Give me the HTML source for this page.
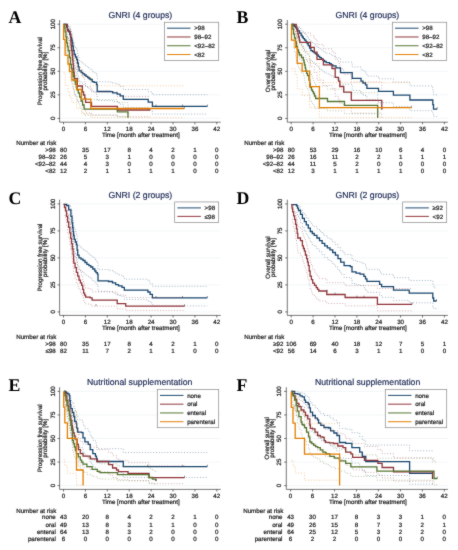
<!DOCTYPE html>
<html><head><meta charset="utf-8"><style>
html,body{margin:0;padding:0;background:#fff;width:458px;height:550px;overflow:hidden}
svg{display:block}
#w{will-change:transform;width:458px;height:550px}
text{font-family:"Liberation Sans",sans-serif;text-rendering:geometricPrecision}
text.s{stroke:#2a2a2a;stroke-width:0.22px;paint-order:stroke}
</style></head><body>
<div id="w"><svg width="458" height="550" viewBox="0 0 458 550">
<defs><filter id="bl" x="0" y="0" width="100%" height="100%" color-interpolation-filters="sRGB"><feConvolveMatrix order="3" kernelMatrix="1 3 1 3 30 3 1 3 1" edgeMode="duplicate"/></filter></defs>
<g filter="url(#bl)">
<rect width="458" height="550" fill="#fff"/>
<text x="8.4" y="22.8" style="font-family:'Liberation Serif',serif;font-weight:bold" font-size="17.8" fill="#000">A</text>
<text x="140.4" y="18.1" text-anchor="middle" font-size="8.7" fill="#1d2a55" stroke="#1d2a55" stroke-width="0.18">GNRI (4 groups)</text>
<line x1="59.6" x2="220.7" y1="118.4" y2="118.4" stroke="#eaf0f2" stroke-width="0.6"/>
<line x1="59.6" x2="220.7" y1="94.85" y2="94.85" stroke="#eaf0f2" stroke-width="0.6"/>
<line x1="59.6" x2="220.7" y1="71.3" y2="71.3" stroke="#eaf0f2" stroke-width="0.6"/>
<line x1="59.6" x2="220.7" y1="47.75" y2="47.75" stroke="#eaf0f2" stroke-width="0.6"/>
<line x1="59.6" x2="220.7" y1="24.2" y2="24.2" stroke="#eaf0f2" stroke-width="0.6"/>
<path d="M66.5 34.29H67.5V37.44H68.6V40.46H69.8V43.64H70.8V47.08H71.5V50.07H72.2V53.2H72.8V57.24H73.3V61.46H74.2V65.58H75.4V68.1H76.7V70.61H77.5V74.07H78.3V77.74H79.1V81.62H81.2V83.12H82.8V84.35H84.5V85.49H86V86.73H87.7V87.85H89V88.74H90.2V89.63H92.2V91.61H94V92.29H96.5V94.26H97.2V100.54H110.3V100.67H112.6V101.58H117.2V102.8H120.2V104.22H123.3V107.49H148.2V110.23H152.4V114.05H207.4V114.05" fill="none" stroke="#1a476f" stroke-width="0.8" stroke-dasharray="1,1.8" opacity="0.5"/>
<path d="M66.5 24.95H67.5V26.26H68.6V27.75H69.8V29.51H70.8V31.61H71.5V33.59H72.2V35.8H72.8V38.85H73.3V42.26H74.2V45.8H75.4V48.05H76.7V50.33H77.5V53.58H78.3V57.19H79.1V61.18H81.2V62.75H82.8V64.02H84.5V65.19H86V66.45H87.7V67.63H89V68.65H90.2V69.68H92.2V71.74H94V72.6H96.5V74.66H97.2V81.78H110.3V82.03H112.6V83.23H117.2V84.68H120.2V86.29H123.3V89.5H148.2V91.88H152.4V94.71H207.4V94.71" fill="none" stroke="#1a476f" stroke-width="0.8" stroke-dasharray="1,1.8" opacity="0.5"/>
<path d="M63.5 24.4H65.4V24.4H66.5V27H67.5V29.5H68.6V31.9H69.8V34.5H70.8V37.4H71.5V40H72.2V42.8H72.8V46.5H73.3V50.5H74.2V54.5H75.4V57H76.7V59.5H77.5V63H78.3V66.8H79.1V70.9H81.2V72.5H82.8V73.8H84.5V75H86V76.3H87.7V77.5H89V78.5H90.2V79.5H92.2V81.6H94V82.4H96.5V84.5H97.2V91.5H110.3V91.7H112.6V92.8H117.2V94.2H120.2V95.8H123.3V99.3H148.2V102.2H152.4V106.4H207.4V106.4" fill="none" stroke="#1a476f" stroke-width="1.3"/>
<line x1="156" x2="156" y1="104.5" y2="106.4" stroke="#333" stroke-width="0.7" opacity="0.8"/>
<line x1="182.5" x2="182.5" y1="104.5" y2="106.4" stroke="#333" stroke-width="0.7" opacity="0.8"/>
<line x1="207.4" x2="207.4" y1="104.5" y2="106.4" stroke="#333" stroke-width="0.7" opacity="0.8"/>
<path d="M67.4 51.96H69.5V51.15H70.1V53.45H70.5V56.02H70.8V61.22H71.1V65.8H71.5V71.19H72.2V75.71H72.6V80.43H73V84.35H73.4V87.83H73.8V91.09H74.2V93.44H74.6V95.8H77.1V95.8H77.3V101.49H82.2V101.49H82.4V106.28H83.6V108.21H84.8V110.41H85.4V110.41H85.6V112.97H91.3V112.97H91.5V115.09H117.2V115.09H117.4V116.69H150V116.69" fill="none" stroke="#90353b" stroke-width="0.8" stroke-dasharray="1,1.8" opacity="0.5"/>
<path d="M67.4 25.61H69.5V25.95H70.1V27.54H70.5V29.27H70.8V31.66H71.1V34.24H71.5V37.74H72.2V41.13H72.6V45.15H73V48.91H73.4V52.6H73.8V56.35H74.2V59.28H74.6V62.4H77.1V62.4H77.3V69.87H82.2V69.87H82.4V75.61H83.6V79.02H84.8V82.81H85.4V82.81H85.6V87.09H91.3V87.09H91.5V91.9H117.2V91.9H117.4V96.48H150V96.48" fill="none" stroke="#90353b" stroke-width="0.8" stroke-dasharray="1,1.8" opacity="0.5"/>
<path d="M63.6 24.4H67.2V24.4H67.4V30.8H69.5V31.4H70.1V34.5H70.5V37.4H70.8V41.5H71.1V45.5H71.5V50.5H72.2V55H72.6V60H73V64.4H73.4V68.5H73.8V72.5H74.2V75.5H74.6V78.6H77.1V78.6H77.3V86H82.2V86H82.4V92H83.6V95H84.8V98.4H85.4V98.4H85.6V102.4H91.3V102.4H91.5V106.4H117.2V106.4H117.4V110H150V110" fill="none" stroke="#90353b" stroke-width="1.3"/>
<line x1="150" x2="150" y1="108.1" y2="110" stroke="#333" stroke-width="0.7" opacity="0.8"/>
<path d="M64.7 40.21H65.1V44.65H65.9V50.67H66.7V57.18H67.4V61.13H68.1V65.29H69.3V72.38H70.5V79.02H71.4V82.79H72.2V86.37H73.2V89.88H74.2V93.48H75.3V96.23H76.3V98.94H77.3V101.1H78.3V103.47H79.7V106.57H81.1V109.55H82.6V112.38H84.1V115.11H117.2V115.11H117.4V116.71H127.9V116.71H128V118.36" fill="none" stroke="#55752f" stroke-width="0.8" stroke-dasharray="1,1.8" opacity="0.5"/>
<path d="M64.7 25.05H65.1V26.96H65.9V30.1H66.7V34.2H67.4V37.05H68.1V40.27H69.3V46.17H70.5V52.35H71.4V56.2H72.2V60.06H73.2V64.01H74.2V68.27H75.3V71.69H76.3V75.17H77.3V78.07H78.3V81.33H79.7V85.72H81.1V90.2H82.6V94.77H84.1V99.64H117.2V99.64H117.4V102.47H127.9V102.47H128V113.92" fill="none" stroke="#55752f" stroke-width="0.8" stroke-dasharray="1,1.8" opacity="0.5"/>
<path d="M63.5 24.4H64.3V24.4H64.7V28H65.1V31.9H65.9V37H66.7V42.8H67.4V46.5H68.1V50.5H69.3V57.5H70.5V64.4H71.4V68.5H72.2V72.5H73.2V76.5H74.2V80.7H75.3V84H76.3V87.3H77.3V90H78.3V93H79.7V97H81.1V101H82.6V105H84.1V109.2H117.2V109.2H117.4V111.9H127.9V111.9H128V117.7" fill="none" stroke="#55752f" stroke-width="1.3"/>
<path d="M63.6 72.68H65V72.68H65.1V85.21H67.9V85.21H68V91.78H69.4V91.78H69.5V96.91H71.8V96.91H71.9V102.58H76.5V102.58H76.6V108.61H81.4V108.61H81.5V114.02H90.6V114.02H90.7V117.61H184.3V117.61" fill="none" stroke="#e37e00" stroke-width="0.8" stroke-dasharray="1,1.8" opacity="0.5"/>
<path d="M63.6 28.15H65V28.15H65.1V37.54H67.9V37.54H68V44.19H69.4V44.19H69.5V50.48H71.8V50.48H71.9V58.42H76.5V58.42H76.6V67.56H81.4V67.56H81.5V76.88H90.6V76.88H90.7V85.82H184.3V85.82" fill="none" stroke="#e37e00" stroke-width="0.8" stroke-dasharray="1,1.8" opacity="0.5"/>
<path d="M63.6 24.4H63.6V39.4H65V39.4H65.1V55.2H67.9V55.2H68V64H69.4V64H69.5V71.4H71.8V71.4H71.9V80H76.5V80H76.6V89.5H81.4V89.5H81.5V99.1H90.6V99.1H90.7V108.5H184.3V108.5" fill="none" stroke="#e37e00" stroke-width="1.3"/>
<line x1="184.3" x2="184.3" y1="106.6" y2="108.5" stroke="#333" stroke-width="0.7" opacity="0.8"/>
<path d="M59.6 20V122.2H220.7" fill="none" stroke="#555" stroke-width="0.8"/>
<line x1="57.5" x2="59.6" y1="118.4" y2="118.4" stroke="#444" stroke-width="0.75"/>
<text transform="translate(54.7,118.4) rotate(-90)" text-anchor="middle" class="s" font-size="6.2" fill="#222">0</text>
<line x1="57.5" x2="59.6" y1="94.85" y2="94.85" stroke="#444" stroke-width="0.75"/>
<text transform="translate(54.7,94.85) rotate(-90)" text-anchor="middle" class="s" font-size="6.2" fill="#222">25</text>
<line x1="57.5" x2="59.6" y1="71.3" y2="71.3" stroke="#444" stroke-width="0.75"/>
<text transform="translate(54.7,71.3) rotate(-90)" text-anchor="middle" class="s" font-size="6.2" fill="#222">50</text>
<line x1="57.5" x2="59.6" y1="47.75" y2="47.75" stroke="#444" stroke-width="0.75"/>
<text transform="translate(54.7,47.75) rotate(-90)" text-anchor="middle" class="s" font-size="6.2" fill="#222">75</text>
<line x1="57.5" x2="59.6" y1="24.2" y2="24.2" stroke="#444" stroke-width="0.75"/>
<text transform="translate(54.7,24.2) rotate(-90)" text-anchor="middle" class="s" font-size="6.2" fill="#222">100</text>
<line x1="63.5" x2="63.5" y1="122.2" y2="124.3" stroke="#444" stroke-width="0.75"/>
<text x="63.5" y="130.8" text-anchor="middle" class="s" font-size="6.2" fill="#222">0</text>
<line x1="85.4" x2="85.4" y1="122.2" y2="124.3" stroke="#444" stroke-width="0.75"/>
<text x="85.4" y="130.8" text-anchor="middle" class="s" font-size="6.2" fill="#222">6</text>
<line x1="107.3" x2="107.3" y1="122.2" y2="124.3" stroke="#444" stroke-width="0.75"/>
<text x="107.3" y="130.8" text-anchor="middle" class="s" font-size="6.2" fill="#222">12</text>
<line x1="129.2" x2="129.2" y1="122.2" y2="124.3" stroke="#444" stroke-width="0.75"/>
<text x="129.2" y="130.8" text-anchor="middle" class="s" font-size="6.2" fill="#222">18</text>
<line x1="151.1" x2="151.1" y1="122.2" y2="124.3" stroke="#444" stroke-width="0.75"/>
<text x="151.1" y="130.8" text-anchor="middle" class="s" font-size="6.2" fill="#222">24</text>
<line x1="173" x2="173" y1="122.2" y2="124.3" stroke="#444" stroke-width="0.75"/>
<text x="173" y="130.8" text-anchor="middle" class="s" font-size="6.2" fill="#222">30</text>
<line x1="194.9" x2="194.9" y1="122.2" y2="124.3" stroke="#444" stroke-width="0.75"/>
<text x="194.9" y="130.8" text-anchor="middle" class="s" font-size="6.2" fill="#222">36</text>
<line x1="216.8" x2="216.8" y1="122.2" y2="124.3" stroke="#444" stroke-width="0.75"/>
<text x="216.8" y="130.8" text-anchor="middle" class="s" font-size="6.2" fill="#222">42</text>
<text x="140.8" y="137.2" text-anchor="middle" class="s" font-size="6.2" fill="#222">Time [month after treatment]</text>
<text transform="translate(41.9,71.1) rotate(-90)" text-anchor="middle" class="s" font-size="6.2" fill="#222">Progression free survival</text>
<text transform="translate(47.1,71.1) rotate(-90)" text-anchor="middle" class="s" font-size="6.2" fill="#222">probability [%]</text>
<text x="16.2" y="144.87" class="s" font-size="6.2" fill="#222">Number at risk</text>
<text x="55.8" y="151.72" text-anchor="end" class="s" font-size="6.2" fill="#222">&gt;98</text>
<text x="63.5" y="151.72" text-anchor="middle" class="s" font-size="6.2" fill="#222">80</text>
<text x="85.4" y="151.72" text-anchor="middle" class="s" font-size="6.2" fill="#222">35</text>
<text x="107.3" y="151.72" text-anchor="middle" class="s" font-size="6.2" fill="#222">17</text>
<text x="129.2" y="151.72" text-anchor="middle" class="s" font-size="6.2" fill="#222">8</text>
<text x="151.1" y="151.72" text-anchor="middle" class="s" font-size="6.2" fill="#222">4</text>
<text x="173" y="151.72" text-anchor="middle" class="s" font-size="6.2" fill="#222">2</text>
<text x="194.9" y="151.72" text-anchor="middle" class="s" font-size="6.2" fill="#222">1</text>
<text x="216.8" y="151.72" text-anchor="middle" class="s" font-size="6.2" fill="#222">0</text>
<text x="55.8" y="158.75" text-anchor="end" class="s" font-size="6.2" fill="#222">98–92</text>
<text x="63.5" y="158.75" text-anchor="middle" class="s" font-size="6.2" fill="#222">26</text>
<text x="85.4" y="158.75" text-anchor="middle" class="s" font-size="6.2" fill="#222">5</text>
<text x="107.3" y="158.75" text-anchor="middle" class="s" font-size="6.2" fill="#222">3</text>
<text x="129.2" y="158.75" text-anchor="middle" class="s" font-size="6.2" fill="#222">1</text>
<text x="151.1" y="158.75" text-anchor="middle" class="s" font-size="6.2" fill="#222">0</text>
<text x="173" y="158.75" text-anchor="middle" class="s" font-size="6.2" fill="#222">0</text>
<text x="194.9" y="158.75" text-anchor="middle" class="s" font-size="6.2" fill="#222">0</text>
<text x="216.8" y="158.75" text-anchor="middle" class="s" font-size="6.2" fill="#222">0</text>
<text x="55.8" y="165.78" text-anchor="end" class="s" font-size="6.2" fill="#222">&lt;92–82</text>
<text x="63.5" y="165.78" text-anchor="middle" class="s" font-size="6.2" fill="#222">44</text>
<text x="85.4" y="165.78" text-anchor="middle" class="s" font-size="6.2" fill="#222">4</text>
<text x="107.3" y="165.78" text-anchor="middle" class="s" font-size="6.2" fill="#222">3</text>
<text x="129.2" y="165.78" text-anchor="middle" class="s" font-size="6.2" fill="#222">0</text>
<text x="151.1" y="165.78" text-anchor="middle" class="s" font-size="6.2" fill="#222">0</text>
<text x="173" y="165.78" text-anchor="middle" class="s" font-size="6.2" fill="#222">0</text>
<text x="194.9" y="165.78" text-anchor="middle" class="s" font-size="6.2" fill="#222">0</text>
<text x="216.8" y="165.78" text-anchor="middle" class="s" font-size="6.2" fill="#222">0</text>
<text x="55.8" y="172.81" text-anchor="end" class="s" font-size="6.2" fill="#222">&lt;82</text>
<text x="63.5" y="172.81" text-anchor="middle" class="s" font-size="6.2" fill="#222">12</text>
<text x="85.4" y="172.81" text-anchor="middle" class="s" font-size="6.2" fill="#222">2</text>
<text x="107.3" y="172.81" text-anchor="middle" class="s" font-size="6.2" fill="#222">1</text>
<text x="129.2" y="172.81" text-anchor="middle" class="s" font-size="6.2" fill="#222">1</text>
<text x="151.1" y="172.81" text-anchor="middle" class="s" font-size="6.2" fill="#222">1</text>
<text x="173" y="172.81" text-anchor="middle" class="s" font-size="6.2" fill="#222">1</text>
<text x="194.9" y="172.81" text-anchor="middle" class="s" font-size="6.2" fill="#222">0</text>
<text x="216.8" y="172.81" text-anchor="middle" class="s" font-size="6.2" fill="#222">0</text>
<rect x="164.34" y="22.25" width="54.36" height="38.26" fill="#fff" stroke="#8a8a8a" stroke-width="0.7"/>
<line x1="167.04" x2="190.54" y1="28.2" y2="28.2" stroke="#1a476f" stroke-width="1.05" opacity="0.95"/>
<text x="194.24" y="30.4" class="s" font-size="6.2" fill="#222">&gt;98</text>
<line x1="167.04" x2="190.54" y1="36.97" y2="36.97" stroke="#90353b" stroke-width="1.05" opacity="0.95"/>
<text x="194.24" y="39.17" class="s" font-size="6.2" fill="#222">98–92</text>
<line x1="167.04" x2="190.54" y1="45.74" y2="45.74" stroke="#55752f" stroke-width="1.05" opacity="0.95"/>
<text x="194.24" y="47.94" class="s" font-size="6.2" fill="#222">&lt;92–82</text>
<line x1="167.04" x2="190.54" y1="54.51" y2="54.51" stroke="#e37e00" stroke-width="1.05" opacity="0.95"/>
<text x="194.24" y="56.71" class="s" font-size="6.2" fill="#222">&lt;82</text>
<text x="236.4" y="22.7" style="font-family:'Liberation Serif',serif;font-weight:bold" font-size="17.8" fill="#000">B</text>
<text x="367.4" y="18.1" text-anchor="middle" font-size="8.7" fill="#1d2a55" stroke="#1d2a55" stroke-width="0.18">GNRI (4 groups)</text>
<line x1="287.3" x2="447.9" y1="118.4" y2="118.4" stroke="#eaf0f2" stroke-width="0.6"/>
<line x1="287.3" x2="447.9" y1="94.85" y2="94.85" stroke="#eaf0f2" stroke-width="0.6"/>
<line x1="287.3" x2="447.9" y1="71.3" y2="71.3" stroke="#eaf0f2" stroke-width="0.6"/>
<line x1="287.3" x2="447.9" y1="47.75" y2="47.75" stroke="#eaf0f2" stroke-width="0.6"/>
<line x1="287.3" x2="447.9" y1="24.2" y2="24.2" stroke="#eaf0f2" stroke-width="0.6"/>
<path d="M293.5 32.55H294.5V32.93H295.6V34.26H296.7V36.51H297.8V38.76H299.5V41.57H301.1V44.28H302.2V46.31H303.3V48.18H304.6V50.03H306V51.86H307.1V54H308.2V56.21H309.6V58.83H310.9V61.51H312.5V62.63H314.2V63.75H315.5V64.74H316.9V65.85H318.3V67.34H319.7V68.81H321.3V70.15H322.9V71.62H324.5V72.69H326.2V73.76H329.5V74.82H331.2V75.88H332.8V76.94H336V79.02H340.2V79.02H340.5V84.29H352V84.29H352.2V90.44H360.5V90.44H361V93.38H363V94.96H365.5V96.53H366.9V99.84H378.3V99.84H378.5V102.7H393.2V102.7H393.4V106.42H409.7V106.42H409.9V110.7H432.6V110.7H432.8V114.01H433.4V114.01H433.5V116.43H437.2V116.43" fill="none" stroke="#1a476f" stroke-width="0.8" stroke-dasharray="1,1.8" opacity="0.5"/>
<path d="M293.5 24.4H294.5V24.79H295.6V25.32H296.7V26.18H297.8V27.2H299.5V28.64H301.1V30.18H302.2V31.42H303.3V32.62H304.6V33.85H306V35.11H307.1V36.63H308.2V38.26H309.6V40.26H310.9V42.38H312.5V43.35H314.2V44.33H315.5V45.24H316.9V46.24H318.3V47.46H319.7V48.68H321.3V49.84H322.9V51.08H324.5V52.12H326.2V53.15H329.5V54.19H331.2V55.24H332.8V56.29H336V57.9H340.2V57.9H340.5V62.11H352V62.11H352.2V66.91H360.5V66.91H361V69.28H363V71.08H365.5V72.9H366.9V76.12H378.3V76.12H378.5V78.79H393.2V78.79H393.4V82.05H409.7V82.05H409.9V85.92H432.6V85.92H432.8V90.11H433.4V90.11H433.5V94.83H437.2V94.83" fill="none" stroke="#1a476f" stroke-width="0.8" stroke-dasharray="1,1.8" opacity="0.5"/>
<path d="M291.4 24.5H292.3V24.5H293.5V25.5H294.5V26.5H295.6V27.6H296.7V29.2H297.8V30.9H299.5V33.1H301.1V35.3H302.2V37H303.3V38.6H304.6V40.2H306V41.8H307.1V43.7H308.2V45.7H309.6V48.1H310.9V50.6H312.5V51.7H314.2V52.8H315.5V53.8H316.9V54.9H318.3V56.3H319.7V57.7H321.3V59H322.9V60.4H324.5V61.5H326.2V62.6H329.5V63.7H331.2V64.8H332.8V65.9H336V67.8H340.2V67.8H340.5V72.7H352V72.7H352.2V78.4H360.5V78.4H361V81.2H363V83H365.5V84.8H366.9V88.3H378.3V88.3H378.5V91.3H393.2V91.3H393.4V95.2H409.7V95.2H409.9V100H432.6V100H432.8V104.6H433.4V104.6H433.5V109.1H437.2V109.1" fill="none" stroke="#1a476f" stroke-width="1.3"/>
<line x1="437.2" x2="437.2" y1="107.2" y2="109.1" stroke="#333" stroke-width="0.7" opacity="0.8"/>
<path d="M296.2 48.08H297V48.73H297.8V51.5H298.5V54.64H299.3V57.86H299.8V60.07H310.4V60.07H310.5V66.64H314.2V66.64H314.3V72.53H316.9V72.53H317V80.07H319.8V80.07H323.4V85.42H332V88.59H335.2V96.43H338.5V99.41H339.8V103.38H343.7V107.41H351.3V113.15H381.8V117.67" fill="none" stroke="#90353b" stroke-width="0.8" stroke-dasharray="1,1.8" opacity="0.5"/>
<path d="M296.2 24.74H297V25.94H297.8V27.46H298.5V29.21H299.3V31.12H299.8V32.84H310.4V32.84H310.5V35.86H314.2V35.86H314.3V39.16H316.9V39.16H317V44.43H319.8V44.43H323.4V48.82H332V52.08H335.2V59.67H338.5V63.45H339.8V68.66H343.7V74.44H351.3V81.93H381.8V88.74" fill="none" stroke="#90353b" stroke-width="0.8" stroke-dasharray="1,1.8" opacity="0.5"/>
<path d="M291.6 24.5H295.6V24.5H296.2V28H297V31H297.8V34H298.5V37H299.3V40H299.8V42.4H310.4V42.4H310.5V47.3H314.2V47.3H314.3V52.2H316.9V52.2H317V59.3H319.8V59.3H323.4V64.8H332V68.5H335.2V77.3H338.5V81.2H339.8V86.5H343.7V92.2H351.3V100.4H381.8V109.6" fill="none" stroke="#90353b" stroke-width="1.3"/>
<line x1="381.8" x2="381.8" y1="107.7" y2="109.6" stroke="#333" stroke-width="0.7" opacity="0.8"/>
<path d="M292.8 41.36H293.5V47.45H294.5V51.84H295.6V56.12H296.5V61.23H297.5V64.9H298.5V67.47H299.5V70.02H301.5V72.59H303.3V75.26H304V77.68H304.5V80.15H305.2V83.04H305.8V85.85H306.7V87.97H307.5V89.94H309V94.03H309.7V97.46H310.3V100.32H311.5V102.32H312.5V103.54H313.5V104.83H314.5V106.76H315.6V108.56H327.4V108.56H327.5V110.83H344.4V110.83H344.5V113.81H377.6V113.81H377.7V118.38" fill="none" stroke="#55752f" stroke-width="0.8" stroke-dasharray="1,1.8" opacity="0.5"/>
<path d="M292.8 25.47H293.5V28.29H294.5V30.77H295.6V33.45H296.5V37.01H297.5V39.8H298.5V41.86H299.5V43.95H301.5V46.05H303.3V48.25H304V50.32H304.5V52.52H305.2V55.21H305.8V57.96H306.7V60.11H307.5V62.22H309V66.48H309.7V70.43H310.3V74.02H311.5V76.63H312.5V78.57H313.5V80.62H314.5V83.29H315.6V86.09H327.4V86.09H327.5V89.19H344.4V89.19H344.5V92.68H377.6V92.68H377.7V116.59" fill="none" stroke="#55752f" stroke-width="0.8" stroke-dasharray="1,1.8" opacity="0.5"/>
<path d="M291.4 24.5H292.2V24.5H292.8V29H293.5V34.2H294.5V38H295.6V41.8H296.5V46.5H297.5V50H298.5V52.5H299.5V55H301.5V57.5H303.3V60.1H304V62.5H304.5V65H305.2V68H305.8V71H306.7V73.3H307.5V75.5H309V80H309.7V84H310.3V87.5H311.5V90H312.5V91.7H313.5V93.5H314.5V96H315.6V98.5H327.4V98.5H327.5V101.5H344.4V101.5H344.5V105.4H377.6V105.4H377.7V118.1" fill="none" stroke="#55752f" stroke-width="1.3"/>
<path d="M291.5 68.7H295.1V68.7H295.2V74.84H297.1V74.84H297.2V89.07H302V89.07H302.1V95.36H309.5V95.36H309.6V107.81H319.3V107.81H319.4V117.66H411.6V117.66" fill="none" stroke="#e37e00" stroke-width="0.8" stroke-dasharray="1,1.8" opacity="0.5"/>
<path d="M291.5 29.17H295.1V29.17H295.2V33.39H297.1V33.39H297.2V44.78H302V44.78H302.1V51.29H309.5V51.29H309.6V63.49H319.3V63.49H319.4V82.66H411.6V82.66" fill="none" stroke="#e37e00" stroke-width="0.8" stroke-dasharray="1,1.8" opacity="0.5"/>
<path d="M291.5 24.5H291.5V40.2H295.1V40.2H295.2V47.3H297.1V47.3H297.2V63.3H302V63.3H302.1V71.2H309.5V71.2H309.6V86.6H319.3V86.6H319.4V107.6H411.6V107.6" fill="none" stroke="#e37e00" stroke-width="1.3"/>
<line x1="411.6" x2="411.6" y1="105.7" y2="107.6" stroke="#333" stroke-width="0.7" opacity="0.8"/>
<path d="M287.3 20V122.2H447.9" fill="none" stroke="#555" stroke-width="0.8"/>
<line x1="285.2" x2="287.3" y1="118.4" y2="118.4" stroke="#444" stroke-width="0.75"/>
<text transform="translate(282.4,118.4) rotate(-90)" text-anchor="middle" class="s" font-size="6.2" fill="#222">0</text>
<line x1="285.2" x2="287.3" y1="94.85" y2="94.85" stroke="#444" stroke-width="0.75"/>
<text transform="translate(282.4,94.85) rotate(-90)" text-anchor="middle" class="s" font-size="6.2" fill="#222">25</text>
<line x1="285.2" x2="287.3" y1="71.3" y2="71.3" stroke="#444" stroke-width="0.75"/>
<text transform="translate(282.4,71.3) rotate(-90)" text-anchor="middle" class="s" font-size="6.2" fill="#222">50</text>
<line x1="285.2" x2="287.3" y1="47.75" y2="47.75" stroke="#444" stroke-width="0.75"/>
<text transform="translate(282.4,47.75) rotate(-90)" text-anchor="middle" class="s" font-size="6.2" fill="#222">75</text>
<line x1="285.2" x2="287.3" y1="24.2" y2="24.2" stroke="#444" stroke-width="0.75"/>
<text transform="translate(282.4,24.2) rotate(-90)" text-anchor="middle" class="s" font-size="6.2" fill="#222">100</text>
<line x1="291.2" x2="291.2" y1="122.2" y2="124.3" stroke="#444" stroke-width="0.75"/>
<text x="291.2" y="130.8" text-anchor="middle" class="s" font-size="6.2" fill="#222">0</text>
<line x1="313.09" x2="313.09" y1="122.2" y2="124.3" stroke="#444" stroke-width="0.75"/>
<text x="313.09" y="130.8" text-anchor="middle" class="s" font-size="6.2" fill="#222">6</text>
<line x1="334.97" x2="334.97" y1="122.2" y2="124.3" stroke="#444" stroke-width="0.75"/>
<text x="334.97" y="130.8" text-anchor="middle" class="s" font-size="6.2" fill="#222">12</text>
<line x1="356.86" x2="356.86" y1="122.2" y2="124.3" stroke="#444" stroke-width="0.75"/>
<text x="356.86" y="130.8" text-anchor="middle" class="s" font-size="6.2" fill="#222">18</text>
<line x1="378.74" x2="378.74" y1="122.2" y2="124.3" stroke="#444" stroke-width="0.75"/>
<text x="378.74" y="130.8" text-anchor="middle" class="s" font-size="6.2" fill="#222">24</text>
<line x1="400.63" x2="400.63" y1="122.2" y2="124.3" stroke="#444" stroke-width="0.75"/>
<text x="400.63" y="130.8" text-anchor="middle" class="s" font-size="6.2" fill="#222">30</text>
<line x1="422.51" x2="422.51" y1="122.2" y2="124.3" stroke="#444" stroke-width="0.75"/>
<text x="422.51" y="130.8" text-anchor="middle" class="s" font-size="6.2" fill="#222">36</text>
<line x1="444.4" x2="444.4" y1="122.2" y2="124.3" stroke="#444" stroke-width="0.75"/>
<text x="444.4" y="130.8" text-anchor="middle" class="s" font-size="6.2" fill="#222">42</text>
<text x="367.8" y="137.2" text-anchor="middle" class="s" font-size="6.2" fill="#222">Time [month after treatment]</text>
<text transform="translate(269.6,71.1) rotate(-90)" text-anchor="middle" class="s" font-size="6.2" fill="#222">Overall survival</text>
<text transform="translate(274.8,71.1) rotate(-90)" text-anchor="middle" class="s" font-size="6.2" fill="#222">probability [%]</text>
<text x="244.2" y="144.87" class="s" font-size="6.2" fill="#222">Number at risk</text>
<text x="283.5" y="151.72" text-anchor="end" class="s" font-size="6.2" fill="#222">&gt;98</text>
<text x="291.2" y="151.72" text-anchor="middle" class="s" font-size="6.2" fill="#222">80</text>
<text x="313.09" y="151.72" text-anchor="middle" class="s" font-size="6.2" fill="#222">53</text>
<text x="334.97" y="151.72" text-anchor="middle" class="s" font-size="6.2" fill="#222">29</text>
<text x="356.86" y="151.72" text-anchor="middle" class="s" font-size="6.2" fill="#222">16</text>
<text x="378.74" y="151.72" text-anchor="middle" class="s" font-size="6.2" fill="#222">10</text>
<text x="400.63" y="151.72" text-anchor="middle" class="s" font-size="6.2" fill="#222">6</text>
<text x="422.51" y="151.72" text-anchor="middle" class="s" font-size="6.2" fill="#222">4</text>
<text x="444.4" y="151.72" text-anchor="middle" class="s" font-size="6.2" fill="#222">0</text>
<text x="283.5" y="158.75" text-anchor="end" class="s" font-size="6.2" fill="#222">98–92</text>
<text x="291.2" y="158.75" text-anchor="middle" class="s" font-size="6.2" fill="#222">26</text>
<text x="313.09" y="158.75" text-anchor="middle" class="s" font-size="6.2" fill="#222">16</text>
<text x="334.97" y="158.75" text-anchor="middle" class="s" font-size="6.2" fill="#222">11</text>
<text x="356.86" y="158.75" text-anchor="middle" class="s" font-size="6.2" fill="#222">2</text>
<text x="378.74" y="158.75" text-anchor="middle" class="s" font-size="6.2" fill="#222">2</text>
<text x="400.63" y="158.75" text-anchor="middle" class="s" font-size="6.2" fill="#222">1</text>
<text x="422.51" y="158.75" text-anchor="middle" class="s" font-size="6.2" fill="#222">1</text>
<text x="444.4" y="158.75" text-anchor="middle" class="s" font-size="6.2" fill="#222">1</text>
<text x="283.5" y="165.78" text-anchor="end" class="s" font-size="6.2" fill="#222">&lt;92–82</text>
<text x="291.2" y="165.78" text-anchor="middle" class="s" font-size="6.2" fill="#222">44</text>
<text x="313.09" y="165.78" text-anchor="middle" class="s" font-size="6.2" fill="#222">11</text>
<text x="334.97" y="165.78" text-anchor="middle" class="s" font-size="6.2" fill="#222">5</text>
<text x="356.86" y="165.78" text-anchor="middle" class="s" font-size="6.2" fill="#222">2</text>
<text x="378.74" y="165.78" text-anchor="middle" class="s" font-size="6.2" fill="#222">0</text>
<text x="400.63" y="165.78" text-anchor="middle" class="s" font-size="6.2" fill="#222">0</text>
<text x="422.51" y="165.78" text-anchor="middle" class="s" font-size="6.2" fill="#222">0</text>
<text x="444.4" y="165.78" text-anchor="middle" class="s" font-size="6.2" fill="#222">0</text>
<text x="283.5" y="172.81" text-anchor="end" class="s" font-size="6.2" fill="#222">&lt;82</text>
<text x="291.2" y="172.81" text-anchor="middle" class="s" font-size="6.2" fill="#222">12</text>
<text x="313.09" y="172.81" text-anchor="middle" class="s" font-size="6.2" fill="#222">3</text>
<text x="334.97" y="172.81" text-anchor="middle" class="s" font-size="6.2" fill="#222">1</text>
<text x="356.86" y="172.81" text-anchor="middle" class="s" font-size="6.2" fill="#222">1</text>
<text x="378.74" y="172.81" text-anchor="middle" class="s" font-size="6.2" fill="#222">1</text>
<text x="400.63" y="172.81" text-anchor="middle" class="s" font-size="6.2" fill="#222">1</text>
<text x="422.51" y="172.81" text-anchor="middle" class="s" font-size="6.2" fill="#222">0</text>
<text x="444.4" y="172.81" text-anchor="middle" class="s" font-size="6.2" fill="#222">0</text>
<rect x="392.34" y="22.25" width="54.36" height="38.26" fill="#fff" stroke="#8a8a8a" stroke-width="0.7"/>
<line x1="395.04" x2="418.54" y1="28.2" y2="28.2" stroke="#1a476f" stroke-width="1.05" opacity="0.95"/>
<text x="422.24" y="30.4" class="s" font-size="6.2" fill="#222">&gt;98</text>
<line x1="395.04" x2="418.54" y1="36.97" y2="36.97" stroke="#90353b" stroke-width="1.05" opacity="0.95"/>
<text x="422.24" y="39.17" class="s" font-size="6.2" fill="#222">98–92</text>
<line x1="395.04" x2="418.54" y1="45.74" y2="45.74" stroke="#55752f" stroke-width="1.05" opacity="0.95"/>
<text x="422.24" y="47.94" class="s" font-size="6.2" fill="#222">&lt;92–82</text>
<line x1="395.04" x2="418.54" y1="54.51" y2="54.51" stroke="#e37e00" stroke-width="1.05" opacity="0.95"/>
<text x="422.24" y="56.71" class="s" font-size="6.2" fill="#222">&lt;82</text>
<text x="8.4" y="204.1" style="font-family:'Liberation Serif',serif;font-weight:bold" font-size="17.8" fill="#000">C</text>
<text x="140.4" y="197.8" text-anchor="middle" font-size="8.7" fill="#1d2a55" stroke="#1d2a55" stroke-width="0.18">GNRI (2 groups)</text>
<line x1="59.6" x2="220.7" y1="311.9" y2="311.9" stroke="#eaf0f2" stroke-width="0.6"/>
<line x1="59.6" x2="220.7" y1="284.9" y2="284.9" stroke="#eaf0f2" stroke-width="0.6"/>
<line x1="59.6" x2="220.7" y1="257.9" y2="257.9" stroke="#eaf0f2" stroke-width="0.6"/>
<line x1="59.6" x2="220.7" y1="230.9" y2="230.9" stroke="#eaf0f2" stroke-width="0.6"/>
<line x1="59.6" x2="220.7" y1="203.9" y2="203.9" stroke="#eaf0f2" stroke-width="0.6"/>
<path d="M66.5 213.91H68.7V219.11H70.9V227.4H72V234.91H72.6V239.94H73.1V244.38H73.6V248.31H74.2V252.16H75.3V254.85H76.4V257.63H77.1V262.71H77.7V267.64H79V270.16H81V271.37H83V272.6H85V274.51H86.9V276.33H88.9V277.52H90.8V278.71H92.8V280.61H94.8V282.48H96V283.96H97.4V285.43H98V291.28H108.5V291.79H112.5V292.87H115.7V294.59H118.5V295.44H122V296.79H124.3V299.39H147.7V299.39H147.9V300.82H150.1V302.85H152.4V305.94H207.3V305.94" fill="none" stroke="#1a476f" stroke-width="0.8" stroke-dasharray="1,1.8" opacity="0.5"/>
<path d="M66.5 204.15H68.7V206.12H70.9V210.36H72V215.21H72.6V218.92H73.1V222.46H73.6V225.77H74.2V229.16H75.3V231.62H76.4V234.19H77.1V239.07H77.7V244.09H79V246.75H81V248.03H83V249.3H85V251.23H86.9V253.07H88.9V254.37H90.8V255.68H92.8V257.63H94.8V259.59H96V261.18H97.4V262.77H98V269.54H108.5V270.38H112.5V271.79H115.7V273.67H118.5V274.93H122V276.63H124.3V279.2H147.7V279.2H147.9V281.15H150.1V283.5H152.4V286.34H207.3V286.34" fill="none" stroke="#1a476f" stroke-width="0.8" stroke-dasharray="1,1.8" opacity="0.5"/>
<path d="M63.6 204.4H66.5V205.5H68.7V209.8H70.9V216.4H72V222.9H72.6V227.5H73.1V231.7H73.6V235.5H74.2V239.3H75.3V242H76.4V244.8H77.1V250H77.7V255.2H79V257.9H81V259.2H83V260.5H85V262.5H86.9V264.4H88.9V265.7H90.8V267H92.8V269H94.8V271H96V272.6H97.4V274.2H98V280.8H108.5V281.5H112.5V282.8H115.7V284.7H118.5V285.8H122V287.4H124.3V290.2H147.7V290.2H147.9V292H150.1V294.4H152.4V297.9H207.3V297.9" fill="none" stroke="#1a476f" stroke-width="1.3"/>
<line x1="156" x2="156" y1="296" y2="297.9" stroke="#333" stroke-width="0.7" opacity="0.8"/>
<line x1="182.5" x2="182.5" y1="296" y2="297.9" stroke="#333" stroke-width="0.7" opacity="0.8"/>
<line x1="207.3" x2="207.3" y1="296" y2="297.9" stroke="#333" stroke-width="0.7" opacity="0.8"/>
<path d="M64.5 215.5H65.5V219.86H66.5V226.52H67.6V232.93H68.7V239.07H69.8V245.01H70.7V250.76H71.5V256.24H72.3V261.48H73.1V266.87H73.6V271.92H73.8V274.74H75.1V278.9H76.4V283H77.7V286.42H79V289.8H80.4V292.12H81.7V294.36H82.7V297.68H83.6V300.86H84.6V302.44H85.6V304.01H90.2V304.38H92.1V306.16H117V306.16H117.2V308.91H125.5V308.91H125.7V310.36H184.6V310.36" fill="none" stroke="#90353b" stroke-width="0.8" stroke-dasharray="1,1.8" opacity="0.5"/>
<path d="M64.5 204.99H65.5V206.89H66.5V210.52H67.6V214.66H68.7V219.07H69.8V223.69H70.7V228.5H71.5V233.38H72.3V238.31H73.1V243.67H73.6V248.99H73.8V252.12H75.1V256.82H76.4V261.58H77.7V265.67H79V269.81H80.4V272.68H81.7V275.44H82.7V279.59H83.6V283.86H84.6V286.09H85.6V288.27H90.2V289.1H92.1V291.84H117V291.84H117.2V294.95H125.5V294.95H125.7V297.47H184.6V297.47" fill="none" stroke="#90353b" stroke-width="0.8" stroke-dasharray="1,1.8" opacity="0.5"/>
<path d="M63.6 204.4H64.5V207.5H65.5V210.9H66.5V216.3H67.6V221.8H68.7V227.3H69.8V232.8H70.7V238.3H71.5V243.7H72.3V249H73.1V254.6H73.6V260H73.8V263.1H75.1V267.7H76.4V272.3H77.7V276.2H79V280.1H80.4V282.8H81.7V285.4H82.7V289.3H83.6V293.2H84.6V295.2H85.6V297.2H90.2V297.8H92.1V300.2H117V300.2H117.2V303.7H125.5V303.7H125.7V306.1H184.6V306.1" fill="none" stroke="#90353b" stroke-width="1.3"/>
<line x1="96" x2="96" y1="304.2" y2="306.1" stroke="#333" stroke-width="0.7" opacity="0.8"/>
<line x1="184.6" x2="184.6" y1="304.2" y2="306.1" stroke="#333" stroke-width="0.7" opacity="0.8"/>
<path d="M59.6 199.7V315.4H220.7" fill="none" stroke="#555" stroke-width="0.8"/>
<line x1="57.5" x2="59.6" y1="311.9" y2="311.9" stroke="#444" stroke-width="0.75"/>
<text transform="translate(54.7,311.9) rotate(-90)" text-anchor="middle" class="s" font-size="6.2" fill="#222">0</text>
<line x1="57.5" x2="59.6" y1="284.9" y2="284.9" stroke="#444" stroke-width="0.75"/>
<text transform="translate(54.7,284.9) rotate(-90)" text-anchor="middle" class="s" font-size="6.2" fill="#222">25</text>
<line x1="57.5" x2="59.6" y1="257.9" y2="257.9" stroke="#444" stroke-width="0.75"/>
<text transform="translate(54.7,257.9) rotate(-90)" text-anchor="middle" class="s" font-size="6.2" fill="#222">50</text>
<line x1="57.5" x2="59.6" y1="230.9" y2="230.9" stroke="#444" stroke-width="0.75"/>
<text transform="translate(54.7,230.9) rotate(-90)" text-anchor="middle" class="s" font-size="6.2" fill="#222">75</text>
<line x1="57.5" x2="59.6" y1="203.9" y2="203.9" stroke="#444" stroke-width="0.75"/>
<text transform="translate(54.7,203.9) rotate(-90)" text-anchor="middle" class="s" font-size="6.2" fill="#222">100</text>
<line x1="63.5" x2="63.5" y1="315.4" y2="317.5" stroke="#444" stroke-width="0.75"/>
<text x="63.5" y="324" text-anchor="middle" class="s" font-size="6.2" fill="#222">0</text>
<line x1="85.4" x2="85.4" y1="315.4" y2="317.5" stroke="#444" stroke-width="0.75"/>
<text x="85.4" y="324" text-anchor="middle" class="s" font-size="6.2" fill="#222">6</text>
<line x1="107.3" x2="107.3" y1="315.4" y2="317.5" stroke="#444" stroke-width="0.75"/>
<text x="107.3" y="324" text-anchor="middle" class="s" font-size="6.2" fill="#222">12</text>
<line x1="129.2" x2="129.2" y1="315.4" y2="317.5" stroke="#444" stroke-width="0.75"/>
<text x="129.2" y="324" text-anchor="middle" class="s" font-size="6.2" fill="#222">18</text>
<line x1="151.1" x2="151.1" y1="315.4" y2="317.5" stroke="#444" stroke-width="0.75"/>
<text x="151.1" y="324" text-anchor="middle" class="s" font-size="6.2" fill="#222">24</text>
<line x1="173" x2="173" y1="315.4" y2="317.5" stroke="#444" stroke-width="0.75"/>
<text x="173" y="324" text-anchor="middle" class="s" font-size="6.2" fill="#222">30</text>
<line x1="194.9" x2="194.9" y1="315.4" y2="317.5" stroke="#444" stroke-width="0.75"/>
<text x="194.9" y="324" text-anchor="middle" class="s" font-size="6.2" fill="#222">36</text>
<line x1="216.8" x2="216.8" y1="315.4" y2="317.5" stroke="#444" stroke-width="0.75"/>
<text x="216.8" y="324" text-anchor="middle" class="s" font-size="6.2" fill="#222">42</text>
<text x="140.8" y="330.4" text-anchor="middle" class="s" font-size="6.2" fill="#222">Time [month after treatment]</text>
<text transform="translate(41.9,257.55) rotate(-90)" text-anchor="middle" class="s" font-size="6.2" fill="#222">Progression free survival</text>
<text transform="translate(47.1,257.55) rotate(-90)" text-anchor="middle" class="s" font-size="6.2" fill="#222">probability [%]</text>
<text x="16.2" y="338.92" class="s" font-size="6.2" fill="#222">Number at risk</text>
<text x="55.8" y="345.67" text-anchor="end" class="s" font-size="6.2" fill="#222">&gt;98</text>
<text x="63.5" y="345.67" text-anchor="middle" class="s" font-size="6.2" fill="#222">80</text>
<text x="85.4" y="345.67" text-anchor="middle" class="s" font-size="6.2" fill="#222">35</text>
<text x="107.3" y="345.67" text-anchor="middle" class="s" font-size="6.2" fill="#222">17</text>
<text x="129.2" y="345.67" text-anchor="middle" class="s" font-size="6.2" fill="#222">8</text>
<text x="151.1" y="345.67" text-anchor="middle" class="s" font-size="6.2" fill="#222">4</text>
<text x="173" y="345.67" text-anchor="middle" class="s" font-size="6.2" fill="#222">2</text>
<text x="194.9" y="345.67" text-anchor="middle" class="s" font-size="6.2" fill="#222">1</text>
<text x="216.8" y="345.67" text-anchor="middle" class="s" font-size="6.2" fill="#222">0</text>
<text x="55.8" y="352.52" text-anchor="end" class="s" font-size="6.2" fill="#222">≤98</text>
<text x="63.5" y="352.52" text-anchor="middle" class="s" font-size="6.2" fill="#222">82</text>
<text x="85.4" y="352.52" text-anchor="middle" class="s" font-size="6.2" fill="#222">11</text>
<text x="107.3" y="352.52" text-anchor="middle" class="s" font-size="6.2" fill="#222">7</text>
<text x="129.2" y="352.52" text-anchor="middle" class="s" font-size="6.2" fill="#222">2</text>
<text x="151.1" y="352.52" text-anchor="middle" class="s" font-size="6.2" fill="#222">1</text>
<text x="173" y="352.52" text-anchor="middle" class="s" font-size="6.2" fill="#222">1</text>
<text x="194.9" y="352.52" text-anchor="middle" class="s" font-size="6.2" fill="#222">0</text>
<text x="216.8" y="352.52" text-anchor="middle" class="s" font-size="6.2" fill="#222">0</text>
<rect x="174.68" y="201.95" width="44.02" height="20.45" fill="#fff" stroke="#8a8a8a" stroke-width="0.7"/>
<line x1="177.38" x2="200.88" y1="207.9" y2="207.9" stroke="#1a476f" stroke-width="1.05" opacity="0.95"/>
<text x="204.58" y="210.1" class="s" font-size="6.2" fill="#222">&gt;98</text>
<line x1="177.38" x2="200.88" y1="216.4" y2="216.4" stroke="#90353b" stroke-width="1.05" opacity="0.95"/>
<text x="204.58" y="218.6" class="s" font-size="6.2" fill="#222">≤98</text>
<text x="236.4" y="204.1" style="font-family:'Liberation Serif',serif;font-weight:bold" font-size="17.8" fill="#000">D</text>
<text x="367.4" y="197.8" text-anchor="middle" font-size="8.7" fill="#1d2a55" stroke="#1d2a55" stroke-width="0.18">GNRI (2 groups)</text>
<line x1="287.3" x2="447.9" y1="311.9" y2="311.9" stroke="#eaf0f2" stroke-width="0.6"/>
<line x1="287.3" x2="447.9" y1="284.9" y2="284.9" stroke="#eaf0f2" stroke-width="0.6"/>
<line x1="287.3" x2="447.9" y1="257.9" y2="257.9" stroke="#eaf0f2" stroke-width="0.6"/>
<line x1="287.3" x2="447.9" y1="230.9" y2="230.9" stroke="#eaf0f2" stroke-width="0.6"/>
<line x1="287.3" x2="447.9" y1="203.9" y2="203.9" stroke="#eaf0f2" stroke-width="0.6"/>
<path d="M296.5 212.27H297.5V215.16H298.5V218.09H300.5V222.93H302.4V227.55H304.4V231.34H306.3V235.04H308.3V238.68H310.3V242.26H312.3V244.4H314.2V246.43H316.9V249.19H319.5V251.93H322.1V254.76H324.7V257.46H327.4V259.53H330V261.49H332.7V264.28H335.4V267.06H338V270.6H340.7V274.08H344.1V277.51H350.3V278.28H352V283.49H356V284.73H360V285.54H363.9V287.72H365.5V290.05H366.9V292.36H378.7V292.36H379.6V295.19H381.6V297.29H393.4V297.29H393.5V300.4H409.1V300.4H409.2V302.77H432.7V302.77H432.8V307.03H433.7V308.66H436.6V308.66" fill="none" stroke="#1a476f" stroke-width="0.8" stroke-dasharray="1,1.8" opacity="0.5"/>
<path d="M296.5 204.37H297.5V205.51H298.5V206.9H300.5V209.58H302.4V212.49H304.4V215.08H306.3V217.77H308.3V220.52H310.3V223.34H312.3V225.08H314.2V226.74H316.9V229.02H319.5V231.33H322.1V233.75H324.7V236.1H327.4V237.92H330V239.64H332.7V242.1H335.4V244.56H338V247.79H340.7V251.07H344.1V254.38H350.3V255.34H352V260.12H356V261.56H360V262.66H363.9V264.67H365.5V266.89H366.9V269.3H378.7V269.3H379.6V272.07H381.6V274.43H393.4V274.43H393.5V277.7H409.1V277.7H409.2V280.56H432.7V280.56H432.8V284.07H433.7V287.81H436.6V287.81" fill="none" stroke="#1a476f" stroke-width="0.8" stroke-dasharray="1,1.8" opacity="0.5"/>
<path d="M291.3 204.6H296.5V205.9H297.5V208.2H298.5V210.5H300.5V214.4H302.4V218.3H304.4V221.6H306.3V224.9H308.3V228.2H310.3V231.5H312.3V233.5H314.2V235.4H316.9V238H319.5V240.6H322.1V243.3H324.7V245.9H327.4V247.9H330V249.8H332.7V252.5H335.4V255.2H338V258.7H340.7V262.2H344.1V265.7H350.3V266.6H352V271.8H356V273.2H360V274.2H363.9V276.4H365.5V278.8H366.9V281.3H378.7V281.3H379.6V284.3H381.6V286.7H393.4V286.7H393.5V290.2H409.1V290.2H409.2V293.1H432.7V293.1H432.8V298H433.7V301H436.6V301" fill="none" stroke="#1a476f" stroke-width="1.3"/>
<line x1="436.6" x2="436.6" y1="299.1" y2="301" stroke="#333" stroke-width="0.7" opacity="0.8"/>
<path d="M292 219.29H292.6V223.65H293.6V228.52H294.6V233.11H295.6V238.35H296.5V243.29H297.2V248.18H297.8V252.91H300.5V255.59H302.4V261.07H303.4V263.67H304.4V266.25H305.4V270.08H306.6V273.65H307.5V276.95H308.3V280.17H309.2V284.93H310.1V289.38H311.4V292.29H312.7V295.16H314.5V296.89H316.2V298.58H317.5V299.78H318.8V300.97H326.7V301.31H326.8V303.48H345V303.48H345.1V305.8H377.3V305.8H377.4V310.82H412.1V310.82" fill="none" stroke="#90353b" stroke-width="0.8" stroke-dasharray="1,1.8" opacity="0.5"/>
<path d="M292 205.05H292.6V206.94H293.6V209.44H294.6V212.14H295.6V215.54H296.5V219.07H297.2V222.85H297.8V226.78H300.5V229.02H302.4V233.62H303.4V235.94H304.4V238.29H305.4V241.84H306.6V245.27H307.5V248.58H308.3V251.95H309.2V257.16H310.1V262.47H311.4V266.13H312.7V269.8H314.5V272.17H316.2V274.6H317.5V276.61H318.8V278.63H326.7V279.47H326.8V282.65H345V282.65H345.1V285.61H377.3V285.61H377.4V288.53H412.1V288.53" fill="none" stroke="#90353b" stroke-width="0.8" stroke-dasharray="1,1.8" opacity="0.5"/>
<path d="M291.3 204.6H292V208.2H292.6V211.8H293.6V215.8H294.6V219.7H295.6V224.3H296.5V228.8H297.2V233.4H297.8V238H300.5V240.6H302.4V245.9H303.4V248.5H304.4V251.1H305.4V255H306.6V258.7H307.5V262.2H308.3V265.7H309.2V271H310.1V276.2H311.4V279.7H312.7V283.2H314.5V285.4H316.2V287.6H317.5V289.3H318.8V291H326.7V291.6H326.8V294.5H345V294.5H345.1V297.5H377.3V297.5H377.4V304.3H412.1V304.3" fill="none" stroke="#90353b" stroke-width="1.3"/>
<line x1="327" x2="327" y1="289.7" y2="291.6" stroke="#333" stroke-width="0.7" opacity="0.8"/>
<line x1="335" x2="335" y1="292.6" y2="294.5" stroke="#333" stroke-width="0.7" opacity="0.8"/>
<line x1="357" x2="357" y1="295.6" y2="297.5" stroke="#333" stroke-width="0.7" opacity="0.8"/>
<line x1="364" x2="364" y1="295.6" y2="297.5" stroke="#333" stroke-width="0.7" opacity="0.8"/>
<line x1="412.1" x2="412.1" y1="302.4" y2="304.3" stroke="#333" stroke-width="0.7" opacity="0.8"/>
<path d="M287.3 199.7V315.4H447.9" fill="none" stroke="#555" stroke-width="0.8"/>
<line x1="285.2" x2="287.3" y1="311.9" y2="311.9" stroke="#444" stroke-width="0.75"/>
<text transform="translate(282.4,311.9) rotate(-90)" text-anchor="middle" class="s" font-size="6.2" fill="#222">0</text>
<line x1="285.2" x2="287.3" y1="284.9" y2="284.9" stroke="#444" stroke-width="0.75"/>
<text transform="translate(282.4,284.9) rotate(-90)" text-anchor="middle" class="s" font-size="6.2" fill="#222">25</text>
<line x1="285.2" x2="287.3" y1="257.9" y2="257.9" stroke="#444" stroke-width="0.75"/>
<text transform="translate(282.4,257.9) rotate(-90)" text-anchor="middle" class="s" font-size="6.2" fill="#222">50</text>
<line x1="285.2" x2="287.3" y1="230.9" y2="230.9" stroke="#444" stroke-width="0.75"/>
<text transform="translate(282.4,230.9) rotate(-90)" text-anchor="middle" class="s" font-size="6.2" fill="#222">75</text>
<line x1="285.2" x2="287.3" y1="203.9" y2="203.9" stroke="#444" stroke-width="0.75"/>
<text transform="translate(282.4,203.9) rotate(-90)" text-anchor="middle" class="s" font-size="6.2" fill="#222">100</text>
<line x1="291.2" x2="291.2" y1="315.4" y2="317.5" stroke="#444" stroke-width="0.75"/>
<text x="291.2" y="324" text-anchor="middle" class="s" font-size="6.2" fill="#222">0</text>
<line x1="313.09" x2="313.09" y1="315.4" y2="317.5" stroke="#444" stroke-width="0.75"/>
<text x="313.09" y="324" text-anchor="middle" class="s" font-size="6.2" fill="#222">6</text>
<line x1="334.97" x2="334.97" y1="315.4" y2="317.5" stroke="#444" stroke-width="0.75"/>
<text x="334.97" y="324" text-anchor="middle" class="s" font-size="6.2" fill="#222">12</text>
<line x1="356.86" x2="356.86" y1="315.4" y2="317.5" stroke="#444" stroke-width="0.75"/>
<text x="356.86" y="324" text-anchor="middle" class="s" font-size="6.2" fill="#222">18</text>
<line x1="378.74" x2="378.74" y1="315.4" y2="317.5" stroke="#444" stroke-width="0.75"/>
<text x="378.74" y="324" text-anchor="middle" class="s" font-size="6.2" fill="#222">24</text>
<line x1="400.63" x2="400.63" y1="315.4" y2="317.5" stroke="#444" stroke-width="0.75"/>
<text x="400.63" y="324" text-anchor="middle" class="s" font-size="6.2" fill="#222">30</text>
<line x1="422.51" x2="422.51" y1="315.4" y2="317.5" stroke="#444" stroke-width="0.75"/>
<text x="422.51" y="324" text-anchor="middle" class="s" font-size="6.2" fill="#222">36</text>
<line x1="444.4" x2="444.4" y1="315.4" y2="317.5" stroke="#444" stroke-width="0.75"/>
<text x="444.4" y="324" text-anchor="middle" class="s" font-size="6.2" fill="#222">42</text>
<text x="367.8" y="330.4" text-anchor="middle" class="s" font-size="6.2" fill="#222">Time [month after treatment]</text>
<text transform="translate(269.6,257.55) rotate(-90)" text-anchor="middle" class="s" font-size="6.2" fill="#222">Overall survival</text>
<text transform="translate(274.8,257.55) rotate(-90)" text-anchor="middle" class="s" font-size="6.2" fill="#222">probability [%]</text>
<text x="244.2" y="338.92" class="s" font-size="6.2" fill="#222">Number at risk</text>
<text x="283.5" y="345.67" text-anchor="end" class="s" font-size="6.2" fill="#222">≥92</text>
<text x="291.2" y="345.67" text-anchor="middle" class="s" font-size="6.2" fill="#222">106</text>
<text x="313.09" y="345.67" text-anchor="middle" class="s" font-size="6.2" fill="#222">69</text>
<text x="334.97" y="345.67" text-anchor="middle" class="s" font-size="6.2" fill="#222">40</text>
<text x="356.86" y="345.67" text-anchor="middle" class="s" font-size="6.2" fill="#222">18</text>
<text x="378.74" y="345.67" text-anchor="middle" class="s" font-size="6.2" fill="#222">12</text>
<text x="400.63" y="345.67" text-anchor="middle" class="s" font-size="6.2" fill="#222">7</text>
<text x="422.51" y="345.67" text-anchor="middle" class="s" font-size="6.2" fill="#222">5</text>
<text x="444.4" y="345.67" text-anchor="middle" class="s" font-size="6.2" fill="#222">1</text>
<text x="283.5" y="352.52" text-anchor="end" class="s" font-size="6.2" fill="#222">&lt;92</text>
<text x="291.2" y="352.52" text-anchor="middle" class="s" font-size="6.2" fill="#222">56</text>
<text x="313.09" y="352.52" text-anchor="middle" class="s" font-size="6.2" fill="#222">14</text>
<text x="334.97" y="352.52" text-anchor="middle" class="s" font-size="6.2" fill="#222">6</text>
<text x="356.86" y="352.52" text-anchor="middle" class="s" font-size="6.2" fill="#222">3</text>
<text x="378.74" y="352.52" text-anchor="middle" class="s" font-size="6.2" fill="#222">1</text>
<text x="400.63" y="352.52" text-anchor="middle" class="s" font-size="6.2" fill="#222">1</text>
<text x="422.51" y="352.52" text-anchor="middle" class="s" font-size="6.2" fill="#222">0</text>
<text x="444.4" y="352.52" text-anchor="middle" class="s" font-size="6.2" fill="#222">0</text>
<rect x="402.68" y="201.95" width="44.02" height="20.45" fill="#fff" stroke="#8a8a8a" stroke-width="0.7"/>
<line x1="405.38" x2="428.88" y1="207.9" y2="207.9" stroke="#1a476f" stroke-width="1.05" opacity="0.95"/>
<text x="432.58" y="210.1" class="s" font-size="6.2" fill="#222">≥92</text>
<line x1="405.38" x2="428.88" y1="216.4" y2="216.4" stroke="#90353b" stroke-width="1.05" opacity="0.95"/>
<text x="432.58" y="218.6" class="s" font-size="6.2" fill="#222">&lt;92</text>
<text x="8.4" y="390.6" style="font-family:'Liberation Serif',serif;font-weight:bold" font-size="17.8" fill="#000">E</text>
<text x="139.7" y="385.3" text-anchor="middle" font-size="8.7" fill="#1d2a55" stroke="#1d2a55" stroke-width="0.18">Nutritional supplementation</text>
<line x1="59.6" x2="220.7" y1="485.6" y2="485.6" stroke="#eaf0f2" stroke-width="0.6"/>
<line x1="59.6" x2="220.7" y1="462.05" y2="462.05" stroke="#eaf0f2" stroke-width="0.6"/>
<line x1="59.6" x2="220.7" y1="438.5" y2="438.5" stroke="#eaf0f2" stroke-width="0.6"/>
<line x1="59.6" x2="220.7" y1="414.95" y2="414.95" stroke="#eaf0f2" stroke-width="0.6"/>
<line x1="59.6" x2="220.7" y1="391.4" y2="391.4" stroke="#eaf0f2" stroke-width="0.6"/>
<path d="M65.8 398.94H66.8V398.89H67.9V399.89H69.3V403.11H69.8V412.39H70.3V417.69H70.8V422.55H72.3V427.03H73.8V431.43H74.7V436.57H76.2V438.4H76.7V443.27H77.7V447.09H81.7V447.36H83V452.52H84.9V456.16H88.2V458.54H90.2V463.23H92.8V466.49H95.4V468.58H96.5V470.76H97.4V472.61H123.2V472.61H123.3V477.46H207.3V477.46" fill="none" stroke="#1a476f" stroke-width="0.8" stroke-dasharray="1,1.8" opacity="0.5"/>
<path d="M65.8 391.56H66.8V391.87H67.9V392.3H69.3V393.01H69.8V395.35H70.3V397.74H70.8V400.47H72.3V403.32H73.8V406.41H74.7V410.39H76.2V412.04H76.7V416.28H77.7V419.89H81.7V420.33H83V425.08H84.9V428.7H88.2V431.15H90.2V436.29H92.8V440.24H95.4V442.95H96.5V445.95H97.4V448.73H123.2V448.73H123.3V452.53H207.3V452.53" fill="none" stroke="#1a476f" stroke-width="0.8" stroke-dasharray="1,1.8" opacity="0.5"/>
<path d="M63.9 391.4H64.8V391.4H65.8V392.5H66.8V393.3H67.9V394.2H69.3V395.8H69.8V400.7H70.3V404.6H70.8V408.6H72.3V412.5H73.8V416.5H74.7V421.4H76.2V423.3H76.7V428.2H77.7V432.2H81.7V432.6H83V437.9H84.9V441.8H88.2V444.4H90.2V449.7H92.8V453.6H95.4V456.2H96.5V459H97.4V461.5H123.2V461.5H123.3V466.6H207.3V466.6" fill="none" stroke="#1a476f" stroke-width="1.3"/>
<line x1="147.7" x2="147.7" y1="464.7" y2="466.6" stroke="#333" stroke-width="0.7" opacity="0.8"/>
<line x1="182.8" x2="182.8" y1="464.7" y2="466.6" stroke="#333" stroke-width="0.7" opacity="0.8"/>
<line x1="207.3" x2="207.3" y1="464.7" y2="466.6" stroke="#333" stroke-width="0.7" opacity="0.8"/>
<path d="M64.9 404.84H65.9V407.01H66.9V413.05H67.9V418.82H68.9V424.31H69.8V429.67H70.8V434.72H71.8V439.6H72.5V443.35H73.1V446.91H74.2V449.68H75.1V452.58H77.1V457.26H78.4V461.86H80.3V465.15H83V467.37H90.2V467.84H90.3V469.44H96.7V469.44H96.8V471.87H108.5V471.87H108.6V474.78H112.5V474.78H112.6V477.48H115.7V477.48H116.5V478.76H118.4V479.76H127.9V479.76H128V480.81H148.9V480.81H149V483.66H184.6V483.66" fill="none" stroke="#90353b" stroke-width="0.8" stroke-dasharray="1,1.8" opacity="0.5"/>
<path d="M64.9 391.71H65.9V392.58H66.9V395.22H67.9V398.43H68.9V402.01H69.8V405.93H70.8V409.99H71.8V414.23H72.5V417.75H73.1V421.28H74.2V424.13H75.1V427.22H77.1V432.29H78.4V437.65H80.3V441.68H83V444.34H90.2V445.2H90.3V447.16H96.7V447.16H96.8V449.7H108.5V449.7H108.6V452.55H112.5V452.55H112.6V455.72H115.7V455.72H116.5V458.15H118.4V460.35H127.9V460.35H128V462.68H148.9V462.68H149V465.93H184.6V465.93" fill="none" stroke="#90353b" stroke-width="0.8" stroke-dasharray="1,1.8" opacity="0.5"/>
<path d="M63.9 391.4H64.9V393.5H65.9V395.8H66.9V400.7H67.9V405.6H68.9V410.5H69.8V415.5H70.8V420.4H71.8V425.3H72.5V429.2H73.1V433H74.2V436H75.1V439.2H77.1V444.4H78.4V449.7H80.3V453.6H83V456.2H90.2V456.9H90.3V458.8H96.7V458.8H96.8V461.5H108.5V461.5H108.6V464.7H112.5V464.7H112.6V468H115.7V468H116.5V470H118.4V471.7H127.9V471.7H128V473.5H148.9V473.5H149V477.6H184.6V477.6" fill="none" stroke="#90353b" stroke-width="1.3"/>
<line x1="184.6" x2="184.6" y1="475.7" y2="477.6" stroke="#333" stroke-width="0.7" opacity="0.8"/>
<path d="M64.4 402.02H64.9V404.63H65.9V410.77H66.9V416.56H68.1V422.08H69.3V427.51H70V432.61H70.8V437.55H71.5V442.33H72.3V446.98H72.5V451.92H73.5V454.77H74.5V457.67H75.5V460.53H76.4V463.34H78.4V466.14H80.3V468.83H81.7V470.5H83V472.17H86.9V474.45H92.1V476.6H97.4V478.16H100V479.07H117.3V479.07H117.4V480.63H148.9V480.63H149V482.89H152.4V483.74H155.9V484.61" fill="none" stroke="#55752f" stroke-width="0.8" stroke-dasharray="1,1.8" opacity="0.5"/>
<path d="M64.4 391.8H64.9V392.81H65.9V395.72H66.9V399.16H68.1V402.91H69.3V406.97H70V411.15H70.8V415.51H71.5V420.02H72.3V424.68H72.5V430.01H73.5V433.26H74.5V436.66H75.5V440.1H76.4V443.62H78.4V447.14H80.3V450.57H81.7V452.73H83V454.89H86.9V457.48H92.1V460.19H97.4V462.38H100V463.93H117.3V463.93H117.4V465.96H148.9V465.96H149V468.33H152.4V470.68H155.9V473.22" fill="none" stroke="#55752f" stroke-width="0.8" stroke-dasharray="1,1.8" opacity="0.5"/>
<path d="M63.9 391.4H64.4V393.5H64.9V395.8H65.9V400.7H66.9V405.6H68.1V410.5H69.3V415.5H70V420.4H70.8V425.3H71.5V430.2H72.3V435.1H72.5V440.5H73.5V443.7H74.5V447H75.5V450.3H76.4V453.6H78.4V456.9H80.3V460.1H81.7V462.1H83V464.1H86.9V466.7H92.1V469.3H97.4V471.3H100V472.6H117.3V472.6H117.4V474.6H148.9V474.6H149V477.5H152.4V479.2H155.9V481.1" fill="none" stroke="#55752f" stroke-width="1.3"/>
<line x1="155.9" x2="155.9" y1="479.2" y2="481.1" stroke="#333" stroke-width="0.7" opacity="0.8"/>
<path d="M63.7 459.87H64.7V459.87H64.8V465.79H67.3V465.79H67.4V473.26H76.4V473.26H76.5V485.12H83V485.12H83.1V485.12" fill="none" stroke="#e37e00" stroke-width="0.8" stroke-dasharray="1,1.8" opacity="0.5"/>
<path d="M63.7 393.78H64.7V393.78H64.8V400.83H67.3V400.83H67.4V411.13H76.4V411.13H76.5V434.56H83V434.56H83.1V434.56" fill="none" stroke="#e37e00" stroke-width="0.8" stroke-dasharray="1,1.8" opacity="0.5"/>
<path d="M63.7 391.4H63.7V407.1H64.7V407.1H64.8V422.8H67.3V422.8H67.4V438.4H76.4V438.4H76.5V470H83V470H83.1V485.6" fill="none" stroke="#e37e00" stroke-width="1.3"/>
<path d="M59.6 387.2V489.4H220.7" fill="none" stroke="#555" stroke-width="0.8"/>
<line x1="57.5" x2="59.6" y1="485.6" y2="485.6" stroke="#444" stroke-width="0.75"/>
<text transform="translate(54.7,485.6) rotate(-90)" text-anchor="middle" class="s" font-size="6.2" fill="#222">0</text>
<line x1="57.5" x2="59.6" y1="462.05" y2="462.05" stroke="#444" stroke-width="0.75"/>
<text transform="translate(54.7,462.05) rotate(-90)" text-anchor="middle" class="s" font-size="6.2" fill="#222">25</text>
<line x1="57.5" x2="59.6" y1="438.5" y2="438.5" stroke="#444" stroke-width="0.75"/>
<text transform="translate(54.7,438.5) rotate(-90)" text-anchor="middle" class="s" font-size="6.2" fill="#222">50</text>
<line x1="57.5" x2="59.6" y1="414.95" y2="414.95" stroke="#444" stroke-width="0.75"/>
<text transform="translate(54.7,414.95) rotate(-90)" text-anchor="middle" class="s" font-size="6.2" fill="#222">75</text>
<line x1="57.5" x2="59.6" y1="391.4" y2="391.4" stroke="#444" stroke-width="0.75"/>
<text transform="translate(54.7,391.4) rotate(-90)" text-anchor="middle" class="s" font-size="6.2" fill="#222">100</text>
<line x1="63.5" x2="63.5" y1="489.4" y2="491.5" stroke="#444" stroke-width="0.75"/>
<text x="63.5" y="498" text-anchor="middle" class="s" font-size="6.2" fill="#222">0</text>
<line x1="85.4" x2="85.4" y1="489.4" y2="491.5" stroke="#444" stroke-width="0.75"/>
<text x="85.4" y="498" text-anchor="middle" class="s" font-size="6.2" fill="#222">6</text>
<line x1="107.3" x2="107.3" y1="489.4" y2="491.5" stroke="#444" stroke-width="0.75"/>
<text x="107.3" y="498" text-anchor="middle" class="s" font-size="6.2" fill="#222">12</text>
<line x1="129.2" x2="129.2" y1="489.4" y2="491.5" stroke="#444" stroke-width="0.75"/>
<text x="129.2" y="498" text-anchor="middle" class="s" font-size="6.2" fill="#222">18</text>
<line x1="151.1" x2="151.1" y1="489.4" y2="491.5" stroke="#444" stroke-width="0.75"/>
<text x="151.1" y="498" text-anchor="middle" class="s" font-size="6.2" fill="#222">24</text>
<line x1="173" x2="173" y1="489.4" y2="491.5" stroke="#444" stroke-width="0.75"/>
<text x="173" y="498" text-anchor="middle" class="s" font-size="6.2" fill="#222">30</text>
<line x1="194.9" x2="194.9" y1="489.4" y2="491.5" stroke="#444" stroke-width="0.75"/>
<text x="194.9" y="498" text-anchor="middle" class="s" font-size="6.2" fill="#222">36</text>
<line x1="216.8" x2="216.8" y1="489.4" y2="491.5" stroke="#444" stroke-width="0.75"/>
<text x="216.8" y="498" text-anchor="middle" class="s" font-size="6.2" fill="#222">42</text>
<text x="140.8" y="504.4" text-anchor="middle" class="s" font-size="6.2" fill="#222">Time [month after treatment]</text>
<text transform="translate(41.9,438.3) rotate(-90)" text-anchor="middle" class="s" font-size="6.2" fill="#222">Progression free survival</text>
<text transform="translate(47.1,438.3) rotate(-90)" text-anchor="middle" class="s" font-size="6.2" fill="#222">probability [%]</text>
<text x="16.2" y="512.72" class="s" font-size="6.2" fill="#222">Number at risk</text>
<text x="55.8" y="519.42" text-anchor="end" class="s" font-size="6.2" fill="#222">none</text>
<text x="63.5" y="519.42" text-anchor="middle" class="s" font-size="6.2" fill="#222">43</text>
<text x="85.4" y="519.42" text-anchor="middle" class="s" font-size="6.2" fill="#222">20</text>
<text x="107.3" y="519.42" text-anchor="middle" class="s" font-size="6.2" fill="#222">8</text>
<text x="129.2" y="519.42" text-anchor="middle" class="s" font-size="6.2" fill="#222">4</text>
<text x="151.1" y="519.42" text-anchor="middle" class="s" font-size="6.2" fill="#222">2</text>
<text x="173" y="519.42" text-anchor="middle" class="s" font-size="6.2" fill="#222">2</text>
<text x="194.9" y="519.42" text-anchor="middle" class="s" font-size="6.2" fill="#222">1</text>
<text x="216.8" y="519.42" text-anchor="middle" class="s" font-size="6.2" fill="#222">0</text>
<text x="55.8" y="526.52" text-anchor="end" class="s" font-size="6.2" fill="#222">oral</text>
<text x="63.5" y="526.52" text-anchor="middle" class="s" font-size="6.2" fill="#222">49</text>
<text x="85.4" y="526.52" text-anchor="middle" class="s" font-size="6.2" fill="#222">13</text>
<text x="107.3" y="526.52" text-anchor="middle" class="s" font-size="6.2" fill="#222">8</text>
<text x="129.2" y="526.52" text-anchor="middle" class="s" font-size="6.2" fill="#222">3</text>
<text x="151.1" y="526.52" text-anchor="middle" class="s" font-size="6.2" fill="#222">1</text>
<text x="173" y="526.52" text-anchor="middle" class="s" font-size="6.2" fill="#222">1</text>
<text x="194.9" y="526.52" text-anchor="middle" class="s" font-size="6.2" fill="#222">0</text>
<text x="216.8" y="526.52" text-anchor="middle" class="s" font-size="6.2" fill="#222">0</text>
<text x="55.8" y="533.62" text-anchor="end" class="s" font-size="6.2" fill="#222">enteral</text>
<text x="63.5" y="533.62" text-anchor="middle" class="s" font-size="6.2" fill="#222">64</text>
<text x="85.4" y="533.62" text-anchor="middle" class="s" font-size="6.2" fill="#222">13</text>
<text x="107.3" y="533.62" text-anchor="middle" class="s" font-size="6.2" fill="#222">8</text>
<text x="129.2" y="533.62" text-anchor="middle" class="s" font-size="6.2" fill="#222">3</text>
<text x="151.1" y="533.62" text-anchor="middle" class="s" font-size="6.2" fill="#222">2</text>
<text x="173" y="533.62" text-anchor="middle" class="s" font-size="6.2" fill="#222">0</text>
<text x="194.9" y="533.62" text-anchor="middle" class="s" font-size="6.2" fill="#222">0</text>
<text x="216.8" y="533.62" text-anchor="middle" class="s" font-size="6.2" fill="#222">0</text>
<text x="55.8" y="540.72" text-anchor="end" class="s" font-size="6.2" fill="#222">parenteral</text>
<text x="63.5" y="540.72" text-anchor="middle" class="s" font-size="6.2" fill="#222">6</text>
<text x="85.4" y="540.72" text-anchor="middle" class="s" font-size="6.2" fill="#222">0</text>
<text x="107.3" y="540.72" text-anchor="middle" class="s" font-size="6.2" fill="#222">0</text>
<text x="129.2" y="540.72" text-anchor="middle" class="s" font-size="6.2" fill="#222">0</text>
<text x="151.1" y="540.72" text-anchor="middle" class="s" font-size="6.2" fill="#222">0</text>
<text x="173" y="540.72" text-anchor="middle" class="s" font-size="6.2" fill="#222">0</text>
<text x="194.9" y="540.72" text-anchor="middle" class="s" font-size="6.2" fill="#222">0</text>
<text x="216.8" y="540.72" text-anchor="middle" class="s" font-size="6.2" fill="#222">0</text>
<rect x="157.28" y="389.45" width="61.42" height="38.26" fill="#fff" stroke="#8a8a8a" stroke-width="0.7"/>
<line x1="159.98" x2="183.48" y1="395.4" y2="395.4" stroke="#1a476f" stroke-width="1.05" opacity="0.95"/>
<text x="187.18" y="397.6" class="s" font-size="6.2" fill="#222">none</text>
<line x1="159.98" x2="183.48" y1="404.17" y2="404.17" stroke="#90353b" stroke-width="1.05" opacity="0.95"/>
<text x="187.18" y="406.37" class="s" font-size="6.2" fill="#222">oral</text>
<line x1="159.98" x2="183.48" y1="412.94" y2="412.94" stroke="#55752f" stroke-width="1.05" opacity="0.95"/>
<text x="187.18" y="415.14" class="s" font-size="6.2" fill="#222">enteral</text>
<line x1="159.98" x2="183.48" y1="421.71" y2="421.71" stroke="#e37e00" stroke-width="1.05" opacity="0.95"/>
<text x="187.18" y="423.91" class="s" font-size="6.2" fill="#222">parenteral</text>
<text x="236.4" y="390.5" style="font-family:'Liberation Serif',serif;font-weight:bold" font-size="17.8" fill="#000">F</text>
<text x="367.6" y="385.3" text-anchor="middle" font-size="8.7" fill="#1d2a55" stroke="#1d2a55" stroke-width="0.18">Nutritional supplementation</text>
<line x1="286.3" x2="447.9" y1="485.6" y2="485.6" stroke="#eaf0f2" stroke-width="0.6"/>
<line x1="286.3" x2="447.9" y1="462.05" y2="462.05" stroke="#eaf0f2" stroke-width="0.6"/>
<line x1="286.3" x2="447.9" y1="438.5" y2="438.5" stroke="#eaf0f2" stroke-width="0.6"/>
<line x1="286.3" x2="447.9" y1="414.95" y2="414.95" stroke="#eaf0f2" stroke-width="0.6"/>
<line x1="286.3" x2="447.9" y1="391.4" y2="391.4" stroke="#eaf0f2" stroke-width="0.6"/>
<path d="M294.6 405.95H297.8V404.39H300V405.73H302.2V406.46H304.4V412.17H305.5V415.02H308.2V416.65H309.3V421.69H310.4V426.97H312.6V430.69H315.3V433.65H317.5V435.11H318.6V438.63H320.8V440.81H324V442.97H328.9V443.32H330.6V446.28H333.9V448.36H336.9V450.79H339.5V458H345.7V458.52H351.8V458.52H351.9V463.14H359.6V463.14H359.7V467.39H362.2V467.39H362.3V471.12H365.7V471.12H365.8V475.5H409.5V475.5H409.6V484.14H432.9V484.14" fill="none" stroke="#1a476f" stroke-width="0.8" stroke-dasharray="1,1.8" opacity="0.5"/>
<path d="M294.6 391.71H297.8V391.98H300V392.7H302.2V393.34H304.4V394.97H305.5V396.3H308.2V397.42H309.3V399.88H310.4V402.99H312.6V405.47H315.3V407.57H317.5V408.97H318.6V411.64H320.8V413.52H324V415.43H328.9V415.96H330.6V418.27H333.9V420.26H336.9V422.49H339.5V428.35H345.7V429.27H351.8V429.27H351.9V432.76H359.6V432.76H359.7V436.45H362.2V436.45H362.3V440.32H365.7V440.32H365.8V445.03H409.5V445.03H409.6V450.77H432.9V450.77" fill="none" stroke="#1a476f" stroke-width="0.8" stroke-dasharray="1,1.8" opacity="0.5"/>
<path d="M291.4 391.5H293.5V391.5H294.6V393.6H297.8V394.2H300V395.8H302.2V396.9H304.4V400.2H305.5V402.4H308.2V404H309.3V407.8H310.4V412.2H312.6V415.5H315.3V418.2H317.5V419.8H318.6V423.1H320.8V425.3H324V427.5H328.9V428H330.6V430.8H333.9V433H336.9V435.5H339.5V442.5H345.7V443.3H351.8V443.3H351.9V447.7H359.6V447.7H359.7V452.1H362.2V452.1H362.3V456.4H365.7V456.4H365.8V461.7H409.5V461.7H409.6V473.3H432.9V473.3" fill="none" stroke="#1a476f" stroke-width="1.3"/>
<line x1="432.9" x2="432.9" y1="471.4" y2="473.3" stroke="#333" stroke-width="0.7" opacity="0.8"/>
<path d="M292.4 404.77H293.5V406.87H295.1V410.93H296.7V416.26H298.9V420H301.1V423.78H303.8V426.27H305.5V429.95H307.7V433.56H309.8V440.11H310.4V443.37H312.4V443.81H315V447.09H317.6V450.28H320.3V451.34H322.9V451.76H324.2V454.94H325.5V456.38H329.5V456.64H333.4V457.14H337.8V459.52H343V460.92H345.7V465.33H350.9V466.61H352.6V469.89H364.3V469.89H364.4V472.37H377.8V472.37H377.9V474.83H382V474.83H382.1V477.96H393.4V477.96H393.5V481.09H432.4V481.09H432.5V485" fill="none" stroke="#90353b" stroke-width="0.8" stroke-dasharray="1,1.8" opacity="0.5"/>
<path d="M292.4 391.74H293.5V392.59H295.1V394.3H296.7V397.04H298.9V399.23H301.1V401.62H303.8V403.27H305.5V405.8H307.7V408.41H309.8V413.5H310.4V416.37H312.4V417H315V419.89H317.6V422.86H320.3V424.18H322.9V424.84H324.2V427.84H325.5V429.55H329.5V430.02H333.4V430.81H337.8V433.11H343V434.87H345.7V438.62H350.9V440.49H352.6V443.58H364.3V443.58H364.4V446.54H377.8V446.54H377.9V449.66H382V449.66H382.1V453.72H393.4V453.72H393.5V457.86H432.4V457.86H432.5V462.35" fill="none" stroke="#90353b" stroke-width="0.8" stroke-dasharray="1,1.8" opacity="0.5"/>
<path d="M291.4 391.5H292.4V393.6H293.5V395.8H295.1V399.1H296.7V403.5H298.9V406.7H301.1V410H303.8V412.2H305.5V415.5H307.7V418.8H309.8V425H310.4V428.3H312.4V428.9H315V432.2H317.6V435.5H320.3V436.8H322.9V437.4H324.2V440.7H325.5V442.4H329.5V442.8H333.4V443.5H337.8V446H343V447.7H345.7V452.1H350.9V453.8H352.6V457.3H364.3V457.3H364.4V460.3H377.8V460.3H377.9V463.4H382V463.4H382.1V467.5H393.4V467.5H393.5V471.9H432.4V471.9H432.5V479" fill="none" stroke="#90353b" stroke-width="1.3"/>
<line x1="432.5" x2="432.5" y1="477.1" y2="479" stroke="#333" stroke-width="0.7" opacity="0.8"/>
<path d="M292.2 402.2H292.9V404.72H294.6V410.29H296.2V416.87H297.3V422.93H298.9V428.85H301.1V434.49H302V437.01H303V437.41H304.5V440.05H306.5V444.69H308.5V449.22H309.8V454.16H311.8V455.74H313.7V457.21H315.7V458.33H317.6V459.14H320.3V461.29H322.9V463.41H325.5V463.84H326.4V464.61H329.9V467.05H334.3V468.59H339.5V471.04H345.7V473.35H350.9V476.49H376.8V476.49H376.9V480.17H433.9V480.17H434V484.85H437.3V484.85" fill="none" stroke="#55752f" stroke-width="0.8" stroke-dasharray="1,1.8" opacity="0.5"/>
<path d="M292.2 391.83H292.9V392.8H294.6V395.36H296.2V399.16H297.3V403.3H298.9V407.8H301.1V412.41H302V414.63H303V415.14H304.5V417.45H306.5V421.59H308.5V425.82H309.8V430.75H311.8V432.39H313.7V433.96H315.7V435.3H317.6V436.38H320.3V438.59H322.9V440.82H325.5V441.53H326.4V442.65H329.9V445.11H334.3V446.95H339.5V449.31H345.7V451.77H350.9V454.84H376.8V454.84H376.9V458.23H433.9V458.23H434V461.96H437.3V461.96" fill="none" stroke="#55752f" stroke-width="0.8" stroke-dasharray="1,1.8" opacity="0.5"/>
<path d="M291.4 391.5H292.2V393.6H292.9V395.8H294.6V400.2H296.2V405.7H297.3V411.1H298.9V416.6H301.1V422H302V424.5H303V425H304.5V427.6H306.5V432.2H308.5V436.8H309.8V442H311.8V443.7H313.7V445.3H315.7V446.6H317.6V447.6H320.3V449.9H322.9V452.2H325.5V452.8H326.4V453.8H329.9V456.4H334.3V458.2H339.5V460.8H345.7V463.4H350.9V466.9H376.8V466.9H376.9V471.2H433.9V471.2H434V478.5H437.3V478.5" fill="none" stroke="#55752f" stroke-width="1.3"/>
<line x1="437.3" x2="437.3" y1="476.6" y2="478.5" stroke="#333" stroke-width="0.7" opacity="0.8"/>
<path d="M291.3 460.34H292.9V460.34H293V466.21H295.1V466.21H295.2V473.01H304.4V473.01H304.5V480.18H339.5V480.18H339.6V480.18" fill="none" stroke="#e37e00" stroke-width="0.8" stroke-dasharray="1,1.8" opacity="0.5"/>
<path d="M291.3 393.81H292.9V393.81H293V400.91H295.1V400.91H295.2V411.19H304.4V411.19H304.5V423.73H339.5V424.02H339.6V424.02" fill="none" stroke="#e37e00" stroke-width="0.8" stroke-dasharray="1,1.8" opacity="0.5"/>
<path d="M291.3 391.5H291.3V407.3H292.9V407.3H293V423.1H295.1V423.1H295.2V438.3H304.4V438.3H304.5V454.1H339.5V454.3H339.6V485.6" fill="none" stroke="#e37e00" stroke-width="1.3"/>
<path d="M286.3 387.2V489.4H447.9" fill="none" stroke="#555" stroke-width="0.8"/>
<line x1="284.2" x2="286.3" y1="485.6" y2="485.6" stroke="#444" stroke-width="0.75"/>
<text transform="translate(281.4,485.6) rotate(-90)" text-anchor="middle" class="s" font-size="6.2" fill="#222">0</text>
<line x1="284.2" x2="286.3" y1="462.05" y2="462.05" stroke="#444" stroke-width="0.75"/>
<text transform="translate(281.4,462.05) rotate(-90)" text-anchor="middle" class="s" font-size="6.2" fill="#222">25</text>
<line x1="284.2" x2="286.3" y1="438.5" y2="438.5" stroke="#444" stroke-width="0.75"/>
<text transform="translate(281.4,438.5) rotate(-90)" text-anchor="middle" class="s" font-size="6.2" fill="#222">50</text>
<line x1="284.2" x2="286.3" y1="414.95" y2="414.95" stroke="#444" stroke-width="0.75"/>
<text transform="translate(281.4,414.95) rotate(-90)" text-anchor="middle" class="s" font-size="6.2" fill="#222">75</text>
<line x1="284.2" x2="286.3" y1="391.4" y2="391.4" stroke="#444" stroke-width="0.75"/>
<text transform="translate(281.4,391.4) rotate(-90)" text-anchor="middle" class="s" font-size="6.2" fill="#222">100</text>
<line x1="290.6" x2="290.6" y1="489.4" y2="491.5" stroke="#444" stroke-width="0.75"/>
<text x="290.6" y="498" text-anchor="middle" class="s" font-size="6.2" fill="#222">0</text>
<line x1="312.56" x2="312.56" y1="489.4" y2="491.5" stroke="#444" stroke-width="0.75"/>
<text x="312.56" y="498" text-anchor="middle" class="s" font-size="6.2" fill="#222">6</text>
<line x1="334.51" x2="334.51" y1="489.4" y2="491.5" stroke="#444" stroke-width="0.75"/>
<text x="334.51" y="498" text-anchor="middle" class="s" font-size="6.2" fill="#222">12</text>
<line x1="356.47" x2="356.47" y1="489.4" y2="491.5" stroke="#444" stroke-width="0.75"/>
<text x="356.47" y="498" text-anchor="middle" class="s" font-size="6.2" fill="#222">18</text>
<line x1="378.43" x2="378.43" y1="489.4" y2="491.5" stroke="#444" stroke-width="0.75"/>
<text x="378.43" y="498" text-anchor="middle" class="s" font-size="6.2" fill="#222">24</text>
<line x1="400.39" x2="400.39" y1="489.4" y2="491.5" stroke="#444" stroke-width="0.75"/>
<text x="400.39" y="498" text-anchor="middle" class="s" font-size="6.2" fill="#222">30</text>
<line x1="422.34" x2="422.34" y1="489.4" y2="491.5" stroke="#444" stroke-width="0.75"/>
<text x="422.34" y="498" text-anchor="middle" class="s" font-size="6.2" fill="#222">36</text>
<line x1="444.3" x2="444.3" y1="489.4" y2="491.5" stroke="#444" stroke-width="0.75"/>
<text x="444.3" y="498" text-anchor="middle" class="s" font-size="6.2" fill="#222">42</text>
<text x="367.8" y="504.4" text-anchor="middle" class="s" font-size="6.2" fill="#222">Time [month after treatment]</text>
<text transform="translate(268.6,438.3) rotate(-90)" text-anchor="middle" class="s" font-size="6.2" fill="#222">Overall survival</text>
<text transform="translate(273.8,438.3) rotate(-90)" text-anchor="middle" class="s" font-size="6.2" fill="#222">probability [%]</text>
<text x="243.2" y="512.72" class="s" font-size="6.2" fill="#222">Number at risk</text>
<text x="282.5" y="519.42" text-anchor="end" class="s" font-size="6.2" fill="#222">none</text>
<text x="290.6" y="519.42" text-anchor="middle" class="s" font-size="6.2" fill="#222">43</text>
<text x="312.56" y="519.42" text-anchor="middle" class="s" font-size="6.2" fill="#222">30</text>
<text x="334.51" y="519.42" text-anchor="middle" class="s" font-size="6.2" fill="#222">17</text>
<text x="356.47" y="519.42" text-anchor="middle" class="s" font-size="6.2" fill="#222">8</text>
<text x="378.43" y="519.42" text-anchor="middle" class="s" font-size="6.2" fill="#222">3</text>
<text x="400.39" y="519.42" text-anchor="middle" class="s" font-size="6.2" fill="#222">3</text>
<text x="422.34" y="519.42" text-anchor="middle" class="s" font-size="6.2" fill="#222">1</text>
<text x="444.3" y="519.42" text-anchor="middle" class="s" font-size="6.2" fill="#222">0</text>
<text x="282.5" y="526.52" text-anchor="end" class="s" font-size="6.2" fill="#222">oral</text>
<text x="290.6" y="526.52" text-anchor="middle" class="s" font-size="6.2" fill="#222">49</text>
<text x="312.56" y="526.52" text-anchor="middle" class="s" font-size="6.2" fill="#222">26</text>
<text x="334.51" y="526.52" text-anchor="middle" class="s" font-size="6.2" fill="#222">15</text>
<text x="356.47" y="526.52" text-anchor="middle" class="s" font-size="6.2" fill="#222">8</text>
<text x="378.43" y="526.52" text-anchor="middle" class="s" font-size="6.2" fill="#222">7</text>
<text x="400.39" y="526.52" text-anchor="middle" class="s" font-size="6.2" fill="#222">3</text>
<text x="422.34" y="526.52" text-anchor="middle" class="s" font-size="6.2" fill="#222">2</text>
<text x="444.3" y="526.52" text-anchor="middle" class="s" font-size="6.2" fill="#222">1</text>
<text x="282.5" y="533.62" text-anchor="end" class="s" font-size="6.2" fill="#222">enteral</text>
<text x="290.6" y="533.62" text-anchor="middle" class="s" font-size="6.2" fill="#222">64</text>
<text x="312.56" y="533.62" text-anchor="middle" class="s" font-size="6.2" fill="#222">25</text>
<text x="334.51" y="533.62" text-anchor="middle" class="s" font-size="6.2" fill="#222">12</text>
<text x="356.47" y="533.62" text-anchor="middle" class="s" font-size="6.2" fill="#222">5</text>
<text x="378.43" y="533.62" text-anchor="middle" class="s" font-size="6.2" fill="#222">3</text>
<text x="400.39" y="533.62" text-anchor="middle" class="s" font-size="6.2" fill="#222">2</text>
<text x="422.34" y="533.62" text-anchor="middle" class="s" font-size="6.2" fill="#222">2</text>
<text x="444.3" y="533.62" text-anchor="middle" class="s" font-size="6.2" fill="#222">0</text>
<text x="282.5" y="540.72" text-anchor="end" class="s" font-size="6.2" fill="#222">parenteral</text>
<text x="290.6" y="540.72" text-anchor="middle" class="s" font-size="6.2" fill="#222">6</text>
<text x="312.56" y="540.72" text-anchor="middle" class="s" font-size="6.2" fill="#222">2</text>
<text x="334.51" y="540.72" text-anchor="middle" class="s" font-size="6.2" fill="#222">2</text>
<text x="356.47" y="540.72" text-anchor="middle" class="s" font-size="6.2" fill="#222">0</text>
<text x="378.43" y="540.72" text-anchor="middle" class="s" font-size="6.2" fill="#222">0</text>
<text x="400.39" y="540.72" text-anchor="middle" class="s" font-size="6.2" fill="#222">0</text>
<text x="422.34" y="540.72" text-anchor="middle" class="s" font-size="6.2" fill="#222">0</text>
<text x="444.3" y="540.72" text-anchor="middle" class="s" font-size="6.2" fill="#222">0</text>
<rect x="385.28" y="389.45" width="61.42" height="38.26" fill="#fff" stroke="#8a8a8a" stroke-width="0.7"/>
<line x1="387.98" x2="411.48" y1="395.4" y2="395.4" stroke="#1a476f" stroke-width="1.05" opacity="0.95"/>
<text x="415.18" y="397.6" class="s" font-size="6.2" fill="#222">none</text>
<line x1="387.98" x2="411.48" y1="404.17" y2="404.17" stroke="#90353b" stroke-width="1.05" opacity="0.95"/>
<text x="415.18" y="406.37" class="s" font-size="6.2" fill="#222">oral</text>
<line x1="387.98" x2="411.48" y1="412.94" y2="412.94" stroke="#55752f" stroke-width="1.05" opacity="0.95"/>
<text x="415.18" y="415.14" class="s" font-size="6.2" fill="#222">enteral</text>
<line x1="387.98" x2="411.48" y1="421.71" y2="421.71" stroke="#e37e00" stroke-width="1.05" opacity="0.95"/>
<text x="415.18" y="423.91" class="s" font-size="6.2" fill="#222">parenteral</text>
</g>
</svg></div>
</body></html>
